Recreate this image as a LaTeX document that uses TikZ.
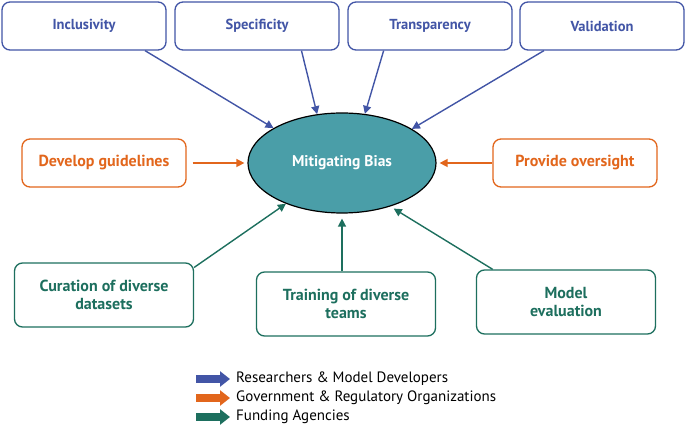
\documentclass[tikz,border=0pt]{standalone}
\usepackage{fontspec}
\setmainfont{PT Sans}
\usetikzlibrary{arrows.meta, positioning, calc, shapes.geometric}
\definecolor{resblue}{HTML}{4255A6}
\definecolor{govorange}{HTML}{E2661C}
\definecolor{fundgreen}{HTML}{1D6F5E}
\definecolor{biasteal}{HTML}{4A9EA8}

\begin{document}
\begin{tikzpicture}[x=1pt, y=-1pt,
  box/.style={draw=#1, text=#1, rounded corners=8pt, line width=1.3pt, fill=white, minimum width=164pt, minimum height=48pt, align=center, font=\bfseries\fontsize{16}{18}\selectfont},
  topbox/.style={box=resblue, font=\bfseries\fontsize{14.5}{16}\selectfont},
  bigbox/.style={box=#1, minimum width=179pt, minimum height=64pt},
  conn/.style={line width=1.4pt, -{Triangle[length=8pt, width=8pt]}},
  legarrow/.style={line width=8pt, -{Triangle[length=10pt, width=15pt]}}]
  \useasboundingbox (0,0) rectangle (685,427);

  % center
  \node[ellipse, draw=black, line width=1.2pt, fill=biasteal, minimum width=188pt, minimum height=100pt, inner sep=0pt, text=white, font=\bfseries\fontsize{15.5}{17}\selectfont] (mit) at (342,163) {Mitigating Bias};

  % researchers
  \node[topbox] (incl) at (84,26) {Inclusivity};
  \node[topbox] (spec) at (257,26) {Specificity};
  \node[topbox] (trans) at (430,26) {Transparency};
  \node[topbox] (valid) at (602,26) {Validation};
  \draw[conn, resblue] (incl.-22) -- (mit.153);
  \draw[conn, resblue] (spec.-29) -- (mit.117);
  \draw[conn, resblue] (trans.-152) -- (mit.65);
  \draw[conn, resblue] (valid.-157) -- (mit.26);

  % government
  \node[box=govorange] (dev) at (104,163) {Develop guidelines};
  \node[box=govorange] (over) at (575,163) {Provide oversight};
  \draw[conn, govorange, shorten <=6pt, shorten >=3pt] (dev) -- (mit);
  \draw[conn, govorange, shorten >=3pt] (over) -- (mit);

  % funding
  \node[bigbox=fundgreen] (cur) at (104,295) {Curation of diverse\\datasets};
  \node[bigbox=fundgreen] (trn) at (346,304) {Training of diverse\\teams};
  \node[bigbox=fundgreen] (eval) at (566,302) {Model\\evaluation};
  \draw[conn, fundgreen] (cur.17) -- (mit.-144);
  \draw[conn, fundgreen, shorten >=5pt] (trn.north -| mit.south) -- (mit.south);
  \draw[conn, fundgreen, shorten >=4pt] (eval.156) -- (mit.-42);

  % legend
  \foreach \y/\c/\t in {379/resblue/Researchers \& Model Developers, 398/govorange/Government \& Regulatory Organizations, 417/fundgreen/Funding Agencies} {
    \coordinate (l\y) at (196,\y);
    \node[anchor=west, inner sep=0pt, font=\fontsize{15}{17}\selectfont] (t\y) at (236,\y) {\t};
    \draw[legarrow, \c, shorten >=6pt] (l\y) -- (t\y.west);
  }
\end{tikzpicture}
\end{document}
